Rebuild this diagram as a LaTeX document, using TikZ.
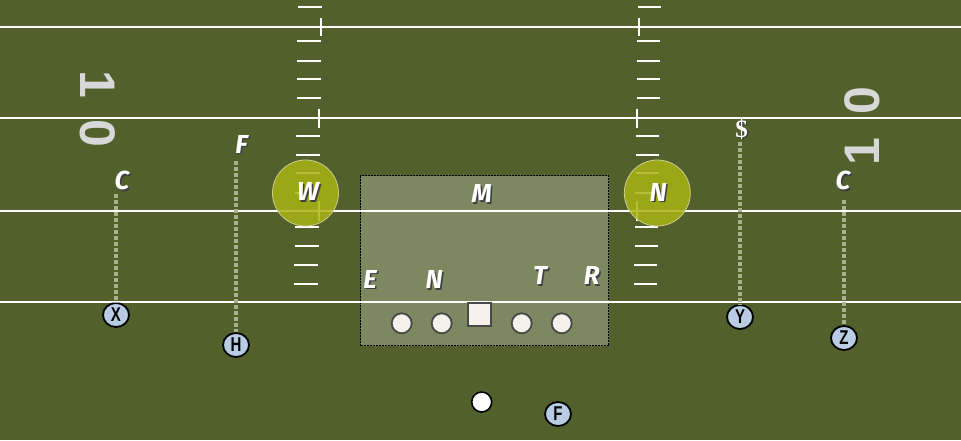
\documentclass[tikz,border=0pt]{standalone}
\usepackage{fontspec}
\usepackage{tikz}
\usetikzlibrary{positioning,shapes.geometric}
\newfontfamily\chalkfont{Fira Sans}
\newfontfamily\numfont{Liberation Sans}
\newfontfamily\tagfont[FakeStretch=0.75]{Liberation Sans}
\newfontfamily\cashfont{Liberation Serif}
\definecolor{turf}{RGB}{82,97,43}
\definecolor{numgray}{RGB}{216,216,216}
\definecolor{zonefill}{RGB}{170,180,20}
\definecolor{zoneedge}{RGB}{205,205,150}
\definecolor{routegray}{RGB}{168,176,142}
\definecolor{tagblue}{RGB}{184,204,228}
\definecolor{olgray}{RGB}{72,72,72}
\definecolor{offwhite}{RGB}{245,242,236}
\newcommand\chk[1]{\rlap{\kern1.5pt\raisebox{-1.5pt}{\textcolor{black!75}{#1}}}#1}
\tikzstyle{yard} = [white, line width=1.6]
\tikzstyle{hash} = [white, line width=1.6]
\tikzstyle{yardnum} = [text=numgray, inner sep=0pt, font=\numfont\bfseries\fontsize{50}{50}\selectfont]
\tikzstyle{chalk} = [text=white, inner sep=0pt, font=\chalkfont\bfseries\itshape\fontsize{26}{26}\selectfont]
\tikzstyle{zone} = [circle, minimum size=66, inner sep=0pt, fill=zonefill, fill opacity=0.85, draw=zoneedge, line width=0.8]
\tikzstyle{box} = [rectangle, fill=white, fill opacity=0.25, draw=black, dash pattern=on 2pt off 1pt, line width=0.8]
\tikzstyle{lineman} = [circle, minimum size=20, inner sep=0pt, fill=offwhite, draw=olgray, line width=1.8]
\tikzstyle{center} = [rectangle, minimum size=23, inner sep=0pt, fill=offwhite, draw=olgray, line width=1.8]
\tikzstyle{qb} = [circle, minimum size=20, inner sep=0pt, fill=white, draw=black, line width=1.6]
\tikzstyle{recv} = [ellipse, minimum width=26, minimum height=24, inner sep=0pt, fill=tagblue, draw=black, line width=1.8, font=\tagfont\bfseries\fontsize{20}{20}\selectfont]
\tikzstyle{route} = [draw=routegray, line width=4pt, dash pattern=on 3.5pt off 2.5pt]

\begin{document}
\begin{tikzpicture}[x=1pt, y=-1pt]
\fill[turf] (0,0) rectangle (961,440);
\useasboundingbox (0,0) rectangle (961,440);

\node (area) [box, minimum width=248, minimum height=170] at (484.5,260.5) {};

% yard lines and hashes
\foreach \ly in {27,118,211,302}
  \draw[yard] (0,\ly) -- (961,\ly);
\foreach \hy in {7,41,61,79,98,136,155,173,193,227,246,265,284}{
  \draw[hash] ({298-4*\hy/284},\hy) -- ++(24,0);
  \draw[hash] ({638-4*\hy/284},\hy) -- ++(23,0);
}
\draw[hash] (321,18) -- (321,36);
\draw[hash] (319,109) -- (319,128);
\draw[hash] (319,201) -- (319,221);
\draw[hash] (638.7,18) -- (638.7,36);
\draw[hash] (636.7,109) -- (636.7,128);
\draw[hash] (636.7,201) -- (636.7,221);

\node (lone) [yardnum, rotate=-90] at (98,84) {1};
\node (lzero) [yardnum, rotate=-90] at (98,133) {0};
\node (rzero) [yardnum, rotate=90] at (862,101) {0};
\node (rone) [yardnum, rotate=90] at (862,152) {1};

\node (wzone) [zone] at (305.5,193) {};
\node (nzone) [zone] at (657.3,193) {};

% receivers
\node (recx) [recv] at (116,315) {X};
\node (rech) [recv] at (236,345) {H};
\node (recy) [recv] at (740,317) {Y};
\node (recz) [recv] at (844,338) {Z};
\node (recf) [recv] at (558,414) {F};

% chalk labels
\node (cleft) [chalk] at (122,181.7) {\chk{C}};
\node (fleft) [chalk] at (241.7,145) {\chk{F}};
\node (wlab) [chalk] at (308,192.7) {\chk{W}};
\node (nlab) [chalk] at (658,193) {\chk{N}};
\node (mlab) [chalk] at (481.7,194.3) {\chk{M}};
\node (elab) [chalk] at (370,280) {\chk{E}};
\node (nline) [chalk] at (434,280.7) {\chk{N}};
\node (tlab) [chalk] at (540,276.7) {\chk{T}};
\node (rlab) [chalk] at (591.7,276.7) {\chk{R}};
\node (cash) [chalk, font=\cashfont\bfseries\fontsize{25}{25}\selectfont] at (741.7,130) {\chk{\$}};
\node (cright) [chalk] at (843,181.7) {\chk{C}};

\draw[route] (recx |- 0,194) -- (recx.north);
\draw[route] (rech |- 0,161) -- (rech.north);
\draw[route] (recy |- 0,142) -- (recy.north);
\draw[route] (recz |- 0,200) -- (recz.north);

% line
\node (lt) [lineman] at (401.7,323.3) {};
\node (lg) [lineman] at (441.7,323.3) {};
\node (ctr) [center] at (479.5,314.7) {};
\node (rg) [lineman] at (521.7,323.3) {};
\node (rt) [lineman] at (561.7,323.3) {};
\node (qback) [qb] at (481.7,402) {};
\end{tikzpicture}
\end{document}
